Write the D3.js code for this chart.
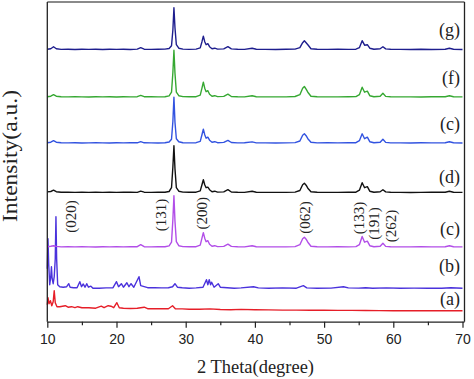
<!DOCTYPE html>
<html><head><meta charset="utf-8">
<script src="https://cdn.jsdelivr.net/npm/d3@7"></script>
<style>html,body{margin:0;padding:0;background:#fff;}svg{display:block;}</style>
</head><body>
<svg id="chart" width="474" height="379"></svg>
<script>
// ---- data ----
const xTicks = [10, 20, 30, 40, 50, 60, 70];
const xMinorTicks = [15, 25, 35, 45, 55, 65];
const xTitle = "2 Theta(degree)";
const yTitle = "Intensity(a.u.)";

// shared 2theta grid for the crystalline patterns (c, d, c, f, g)
const thetaCryst = [
  10, 10.5, 10.9, 11.3, 12, 13, 14, 15, 16, 17,
  18, 19, 20, 21, 22, 23, 23.5, 24, 25, 26,
  27, 27.6, 27.95, 28.15, 28.3, 28.45, 28.65, 29, 29.6, 30.5,
  31.5, 32.1, 32.35, 32.55, 32.75, 32.95, 33.2, 33.45, 33.8, 34.2,
  34.6, 35.5, 36.1, 36.6, 37.5, 38.5, 39.6, 40.2, 41.5, 43,
  44.5, 45.8, 46.5, 46.9, 47.15, 47.4, 47.65, 48.1, 49, 50.5,
  52, 53.5, 54.6, 55.1, 55.5, 55.85, 56.25, 56.6, 57.2, 58.1,
  58.5, 58.9, 59.6, 61, 62.5, 64, 65.5, 67.5, 68.1, 68.7,
  70
];
const intensityG = [
  0.5, 1, 3, 1, 0.3, 0.5, 0.2, 0.4, 0.3, 0.5,
  0.2, 0.4, 0.3, 0.5, 0.2, 0.6, 2, 0.5, 0.3, 0.5,
  0.6, 1.2, 4, 20, 42, 22, 5, 1.5, 0.6, 0.3,
  0.6, 1.8, 8, 13.5, 8, 5, 6, 3, 1, 1.5,
  0.6, 0.8, 3, 0.8, 0.4, 0.3, 1.5, 0.4, 0.3, 0.2,
  0.4, 0.6, 2, 7, 9, 7, 5, 1, 0.4, 0.3,
  0.4, 0.3, 0.5, 2, 9, 4.5, 5, 1.5, 0.5, 1,
  3, 0.8, 0.4, 0.3, 0.2, 0.4, 0.2, 0.5, 1.5, 0.4,
  0.2
];
const intensityF = [
  0.5, 1, 2.5, 1, 0.4, 0.3, 0.5, 0.3, 0.2, 0.4,
  0.3, 0.5, 0.2, 0.4, 0.3, 0.5, 1.8, 0.5, 0.4, 0.3,
  0.5, 1.3, 5, 25, 47, 24, 5, 1.5, 0.6, 0.4,
  0.5, 2, 9, 15, 9, 5.5, 6.5, 3, 1, 1.5,
  0.6, 0.8, 3, 0.7, 0.4, 0.3, 1.4, 0.4, 0.3, 0.3,
  0.3, 0.7, 2.5, 9, 10.7, 8, 5, 1, 0.4, 0.3,
  0.3, 0.4, 0.6, 2.5, 10, 5, 6, 1.5, 0.5, 1,
  4, 0.8, 0.4, 0.3, 0.3, 0.2, 0.4, 0.5, 1.5, 0.4,
  0.3
];
const intensityCTop = [
  0.5, 1, 2.5, 1, 0.4, 0.3, 0.4, 0.2, 0.3, 0.5,
  0.3, 0.2, 0.4, 0.3, 0.5, 0.4, 1.5, 0.4, 0.3, 0.2,
  0.4, 1.2, 4, 22, 46, 21, 4.5, 1.5, 0.5, 0.3,
  0.5, 1.8, 8.5, 14, 8.5, 5, 6, 3, 1, 1.5,
  0.5, 0.8, 2.8, 0.7, 0.3, 0.4, 1.3, 0.3, 0.3, 0.2,
  0.3, 0.6, 2.2, 8, 9.4, 7.5, 4.5, 1, 0.3, 0.4,
  0.3, 0.4, 0.5, 2.5, 9.4, 4.5, 6, 1.5, 0.4, 1,
  4, 0.8, 0.3, 0.3, 0.2, 0.4, 0.3, 0.5, 1.4, 0.4,
  0.2
];
const intensityD = [
  0.8, 1.2, 2.5, 1, 0.4, 0.5, 0.3, 0.4, 0.3, 0.5,
  0.3, 0.4, 0.3, 0.5, 0.4, 0.3, 1.5, 0.5, 0.3, 0.4,
  0.5, 1.2, 5, 26, 47, 24, 5, 1.5, 0.6, 0.4,
  0.5, 1.8, 8, 13, 8, 5, 5.5, 3, 1, 1.5,
  0.6, 0.8, 3, 0.7, 0.4, 0.3, 1.4, 0.4, 0.3, 0.3,
  0.3, 0.6, 2.2, 8, 9.4, 7.5, 4.5, 1, 0.4, 0.3,
  0.3, 0.4, 0.5, 2.5, 10, 5, 6, 1.5, 0.5, 1,
  3, 0.8, 0.4, 0.3, 0.2, 0.3, 0.4, 0.5, 1.5, 0.4,
  0.3
];
const intensityCPurple = [
  0.5, 1, 1.5, 0.8, 0.3, 0.4, 0.3, 0.5, 0.3, 0.2,
  0.4, 0.3, 0.5, 0.3, 0.4, 0.5, 2.5, 0.5, 0.3, 0.4,
  0.5, 1.3, 5, 28, 51.5, 26, 5.5, 1.5, 0.6, 0.4,
  0.5, 2, 9, 14.5, 9, 5.5, 6.5, 3, 1, 1.5,
  0.6, 0.8, 3, 0.8, 0.4, 0.3, 1.5, 0.4, 0.3, 0.3,
  0.3, 0.6, 2.5, 8.5, 10, 8, 5, 1, 0.4, 0.3,
  0.4, 0.3, 0.6, 2.5, 10.7, 5, 6, 1.5, 0.5, 1,
  4, 0.8, 0.4, 0.3, 0.3, 0.4, 0.3, 0.5, 1.5, 0.4,
  0.3
];
// pattern (b): [2theta, intensity]
const patternB = [
  [10,20],[10.1,50],[10.2,25],[10.35,4],[10.5,12],[10.6,22],[10.7,10],[10.85,5],[11.0,12],[11.15,30],
  [11.25,72],[11.35,30],[11.5,4],[11.8,2],[12.3,1.5],[12.8,2],[13.1,5],[13.3,1.5],[13.8,1],[14.3,1],
  [14.7,7],[14.95,2],[15.2,4.7],[15.45,1.5],[15.7,5],[15.95,1.5],[16.3,2.5],[16.6,0.5],[17.5,0.5],[18.5,0.8],
  [19.5,1],[20.0,7],[20.3,2],[20.7,5],[21,1.5],[21.5,6],[21.8,2],[22.1,5],[22.5,1.5],[23.25,12],
  [23.5,3],[24,2],[24.5,1],[25.5,1],[26.5,0.8],[27.5,1],[28.1,2],[28.45,5],[28.8,1.5],[29.5,1],
  [30.5,0.5],[31.5,0.8],[32.5,1.5],[33.0,9],[33.2,4],[33.4,9],[33.6,4],[33.75,6.5],[34.1,1.5],[34.7,5],
  [35,1.5],[36,1],[37,0.5],[38,0.8],[39.8,2],[40.5,0.8],[42,0.5],[44,0.8],[46,0.5],[47,3],
  [47.5,0.8],[49,0.5],[51,0.6],[52.8,2],[53.5,0.8],[55,0.6],[56,1],[57,0.5],[59,0.8],[61,0.5],
  [63,0.6],[65,0.4],[67,0.5],[68.3,1],[70,0.4]
];
// pattern (a): [2theta, intensity]
const patternA = [
  [10,6],[10.1,13],[10.25,7],[10.45,10],[10.65,5],[10.85,9],[11.0,20],[11.15,8],[11.4,4],[11.8,4],
  [12.2,4.5],[12.6,5],[13,3.5],[13.5,4],[14,3],[14.4,4],[15,3],[16,3],[17,2.5],[17.8,4.5],
  [18.2,3],[18.8,5],[19.2,4.5],[19.6,3],[20.05,8],[20.4,3],[21,2.5],[22,2.2],[23,2.5],[24,3.5],
  [24.5,2],[25.5,2],[26.5,2],[27.5,2],[28.1,5],[28.5,2],[29.5,1.8],[30.5,1.5],[32,1.5],[33.5,1.8],
  [35,1.2],[36.5,1],[38,1.3],[40,1],[42,0.8],[44,0.6],[46,0.6],[48,0.5],[50,0.4],[52,0.3],
  [54,0.3],[56,0.2],[58,0.1],[60,0],[62,0],[64,0],[66,0],[68,0],[70,0]
];

const seriesNames   = ["(a)", "(b)", "(c)", "(d)", "(c)", "(f)", "(g)"];
const seriesOffsets = [11, 33, 74.5, 129, 178.5, 224.5, 272];
const seriesColors  = ["#e61e28", "#4a32dc", "#b24ee8", "#111111", "#3253e0", "#36a832", "#1e1e8e"];

const peakLabels    = ["(020)", "(131)", "(200)", "(062)", "(133)", "(191)", "(262)"];
const peakLabelX    = [13.4, 26.4, 32.4, 47.3, 55.0, 57.2, 59.6];
const peakLabelY    = [105.2, 106.7, 108.4, 104.2, 103.7, 98.2, 95.7];

// ---- build series ----
function zip(th, vals) { return th.map((t, i) => [t, vals[i]]); }
const seriesData = [
  patternA,
  patternB,
  zip(thetaCryst, intensityCPurple),
  zip(thetaCryst, intensityD),
  zip(thetaCryst, intensityCTop),
  zip(thetaCryst, intensityF),
  zip(thetaCryst, intensityG)
];

// ---- layout ----
const svg = d3.select("#chart");
const plotLeft = 47.3, plotRight = 462.5, plotTop = 2, plotBottom = 321.7;
const x = d3.scaleLinear().domain([10, 70]).range([plotLeft, plotRight]);
const y = d3.scaleLinear().domain([0, 320]).range([plotBottom, plotTop - 0.3]);

// series lines
const line = d3.line().x(d => x(d[0])).y(d => y(d[1]));
seriesData.forEach((data, i) => {
  const off = seriesOffsets[i];
  svg.append("path")
    .datum(data.map(d => [d[0], d[1] + off]))
    .attr("fill", "none")
    .attr("stroke", seriesColors[i])
    .attr("stroke-width", 1.4)
    .attr("stroke-linejoin", "round")
    .attr("d", line);
});

// frame
svg.append("line").attr("x1", plotLeft).attr("x2", 464.5).attr("y1", plotTop).attr("y2", plotTop)
  .attr("stroke", "#8a8a8a").attr("stroke-width", 2);
svg.append("line").attr("x1", 464.5).attr("x2", 464.5).attr("y1", plotTop).attr("y2", plotBottom)
  .attr("stroke", "#222").attr("stroke-width", 1.3);
svg.append("line").attr("x1", plotLeft).attr("x2", plotLeft).attr("y1", plotTop).attr("y2", plotBottom)
  .attr("stroke", "#222").attr("stroke-width", 1.3);

// x axis
const xAxis = d3.axisBottom(x).tickValues(xTicks).tickFormat(d3.format("d")).tickSize(6).tickPadding(6.5);
const gx = svg.append("g").attr("transform", `translate(0,${plotBottom})`).call(xAxis);
gx.select(".domain").attr("stroke", "#222").attr("stroke-width", 1.3).attr("d", `M${plotLeft},0.5H464.5`);
gx.selectAll(".tick line").attr("stroke", "#222").attr("stroke-width", 1.2);
gx.selectAll(".tick text").attr("font-family", "'Liberation Sans', Arial, sans-serif")
  .attr("font-size", 14).attr("fill", "#222");
const gxm = svg.append("g").attr("transform", `translate(0,${plotBottom})`)
  .call(d3.axisBottom(x).tickValues(xMinorTicks).tickSize(3.5).tickFormat(""));
gxm.select(".domain").remove();
gxm.selectAll(".tick line").attr("stroke", "#222").attr("stroke-width", 1.2);

// axis titles
svg.append("text").attr("x", 255.5).attr("y", 372.5).attr("text-anchor", "middle")
  .attr("font-family", "'Liberation Serif', 'Times New Roman', serif").attr("font-size", 18)
  .attr("fill", "#222").attr("textLength", 117).attr("lengthAdjust", "spacingAndGlyphs").text(xTitle);
svg.append("text").attr("transform", "translate(17,156) rotate(-90)").attr("text-anchor", "middle")
  .attr("font-family", "'Liberation Serif', 'Times New Roman', serif").attr("font-size", 20)
  .attr("fill", "#222").attr("textLength", 132).attr("lengthAdjust", "spacingAndGlyphs").text(yTitle);

// series labels
const labelBaselineOffset = [5.5, 17, 12, 10, 13, 13, 13.5];
seriesNames.forEach((name, i) => {
  svg.append("text")
    .attr("x", 460).attr("y", y(seriesOffsets[i] + labelBaselineOffset[i]))
    .attr("text-anchor", "end")
    .attr("font-family", "'Liberation Serif', 'Times New Roman', serif").attr("font-size", 18)
    .attr("fill", "#222").text(name);
});

// peak (hkl) labels
peakLabels.forEach((lab, i) => {
  const px = x(peakLabelX[i]), py = y(peakLabelY[i]);
  svg.append("text")
    .attr("transform", `translate(${px},${py}) rotate(-90)`)
    .attr("text-anchor", "middle").attr("dominant-baseline", "central")
    .attr("font-family", "'Liberation Serif', 'Times New Roman', serif").attr("font-size", 15)
    .attr("fill", "#222").text(lab);
});
</script>
</body></html>
